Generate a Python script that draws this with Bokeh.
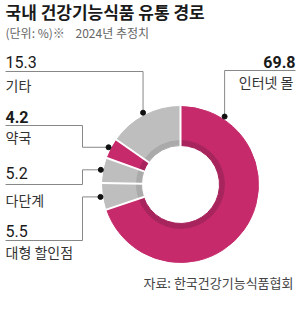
import math
from bokeh.plotting import figure
from bokeh.models import Range1d, ColumnDataSource
from bokeh.core.properties import value
from bokeh.embed import file_html
from bokeh.resources import INLINE

# ---- data ----
categories = ["인터넷 몰", "대형 할인점", "다단계", "약국", "기타"]
shares = [69.8, 5.5, 5.2, 4.2, 15.3]
value_labels = ["69.8", "5.5", "5.2", "4.2", "15.3"]
highlight = [True, False, False, True, False]

title = "국내 건강기능식품 유통 경로"
subtitle = "(단위: %)※\u00a0\u00a0\u00a0\u00a02024년 추정치"
source_note = "자료: 한국건강기능식품협회"

# ---- styles / layout ----
W, H = 300, 318
PINK, PINK_D = "#C62A6B", "#A8245C"
GRAY, GRAY_D = "#BEBEBE", "#AAAAAA"
KR = "Noto Sans CJK KR"
NUM = "Roboto"

CX, CY = 180, 184          # screen px
R_OUT, R_IN, R_BAND = 78, 39, 44
R_DOT = 81

# label layout per category: (side, number_y, underline_y, name_y, elbow_x, dot_angle_override)
layout = [
    ("right", 61, 70, 81, None, 33),
    ("left", 230, 240, 251, 82, None),
    ("left", 172, 184, 199, 82, None),
    ("left", 116, 125, 136, 82, None),
    ("left", 61, 71, 84, None, None),
]

def sy(y):
    return H - y

p = figure(width=W, height=H, x_range=Range1d(0, W), y_range=Range1d(0, H),
           output_backend="svg", toolbar_location=None,
           x_axis_location=None, y_axis_location=None, min_border=0)
p.grid.visible = False
p.outline_line_color = None
p.background_fill_color = "white"
p.border_fill_color = "white"

# ---- donut ----
total = sum(shares)
cum = 0.0
starts, ends, cols, dcols, bounds, mids = [], [], [], [], [], []
for s, hl in zip(shares, highlight):
    t1 = cum / total * 360
    t2 = (cum + s) / total * 360
    starts.append(math.radians(90 - t2))
    ends.append(math.radians(90 - t1))
    cols.append(PINK if hl else GRAY)
    dcols.append(PINK_D if hl else GRAY_D)
    bounds.append(t1)
    mids.append((t1 + t2) / 2)
    cum += s

src = ColumnDataSource(dict(start=starts, end=ends, color=cols, dcolor=dcols))
p.annular_wedge(x=CX, y=sy(CY), inner_radius=R_BAND, outer_radius=R_OUT,
                start_angle="start", end_angle="end", color="color", source=src)
p.annular_wedge(x=CX, y=sy(CY), inner_radius=R_IN, outer_radius=R_BAND,
                start_angle="start", end_angle="end", color="dcolor", source=src)

# white separators
x0s, y0s, x1s, y1s = [], [], [], []
for t in bounds:
    a = math.radians(t)
    x0s.append(CX + (R_IN - 1) * math.sin(a)); y0s.append(sy(CY) + (R_IN - 1) * math.cos(a))
    x1s.append(CX + (R_OUT + 1) * math.sin(a)); y1s.append(sy(CY) + (R_OUT + 1) * math.cos(a))
p.segment(x0=x0s, y0=y0s, x1=x1s, y1=y1s, line_color="white", line_width=2)

# ---- labels, leaders and dots ----
xs, ys, dx, dy = [], [], [], []
for i, (side, ny, uy, namey, elbow, ang) in enumerate(layout):
    a = math.radians(ang if ang is not None else mids[i])
    px = CX + R_DOT * math.sin(a)
    py = CY - R_DOT * math.cos(a)
    dx.append(px); dy.append(sy(py))
    if side == "left":
        x_text, align = 5, "left"
        if elbow is None:
            path = [(5, uy), (px, uy), (px, py)]
        else:
            path = [(5, uy), (elbow, uy), (elbow, py), (px, py)]
    else:
        x_text, align = 295, "right"
        path = [(295, uy), (px, uy), (px, py)]
    xs.append([q[0] for q in path]); ys.append([sy(q[1]) for q in path])

    p.text(x=[x_text], y=[sy(ny)], text=[value_labels[i]], text_align=align,
           text_baseline="middle", text_font=value(NUM), text_font_size="16px",
           text_font_style="bold" if highlight[i] else "normal", text_color="#1a1a1a")
    p.text(x=[x_text - (2 if side == "right" else 0)], y=[sy(namey)], text=[categories[i]],
           text_align=align, text_baseline="middle", text_font=value(KR),
           text_font_size="14px", text_color="#333333")

p.multi_line(xs=xs, ys=ys, line_color="#888888", line_width=1)
p.scatter(x=dx, y=dy, size=5, color="#111111")

# ---- titles ----
p.text(x=[5], y=[sy(11)], text=[title], text_align="left", text_baseline="middle",
       text_font=value(KR), text_font_size="17px", text_font_style="bold", text_color="#1a1a1a")
p.text(x=[5], y=[sy(32)], text=[subtitle], text_align="left", text_baseline="middle",
       text_font=value(KR), text_font_size="12px", text_color="#666666")
p.text(x=[293], y=[sy(282)], text=[source_note], text_align="right", text_baseline="middle",
       text_font=value(KR), text_font_size="13px", text_color="#444444")

open("out.html", "w").write(file_html(p, INLINE))
